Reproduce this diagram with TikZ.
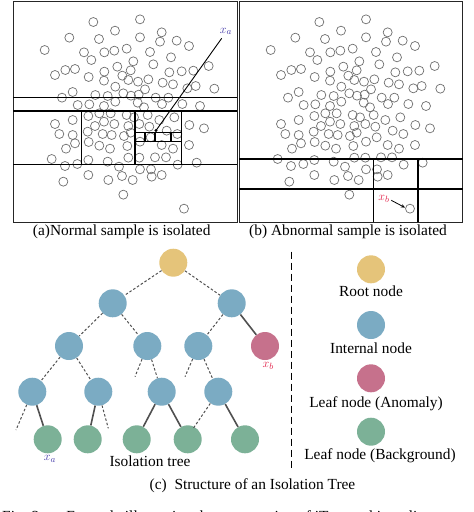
\documentclass[tikz,border=0pt]{standalone}
\usepackage{fontspec}
\setmainfont{Liberation Serif}
\usetikzlibrary{arrows.meta}
\definecolor{rootc}{RGB}{229,196,122}
\definecolor{intc}{RGB}{123,171,195}
\definecolor{anomc}{RGB}{198,113,140}
\definecolor{leafc}{RGB}{124,177,151}
\definecolor{ptgray}{RGB}{110,110,110}
\definecolor{edgegray}{RGB}{80,80,80}
\definecolor{xacol}{RGB}{70,60,170}
\definecolor{xbcol}{RGB}{225,30,70}
\newcommand{\ptcloud}{%
  \begin{scope}[shift={(10,0)},x=0.33333pt,y=-0.33333pt]
    \foreach \a/\b in {250/66, 390/58, 178/113, 315/92, 267/117, 390/112, 455/97, 450/125, 500/122, 537/138, 104/150, 222/157, 283/157, 313/152, 350/146, 420/156, 483/172, 244/180, 370/184, 430/193, 596/198, 135/225, 166/210, 195/207, 236/231, 283/215, 322/200, 362/211, 337/227, 355/240, 384/245, 415/238, 478/217, 515/214, 550/212, 282/242, 316/260, 458/248, 489/253, 532/265, 557/258, 613/266, 188/276, 156/293, 256/285, 293/288, 340/280, 363/287, 386/284, 405/268, 437/293, 475/293, 203/315, 238/313, 282/318, 316/305, 383/308, 402/322, 456/312, 517/312, 570/318}
      \draw[ptstyle] (\a,\b) circle[radius=4.5pt];
  \end{scope}
  \begin{scope}[shift={(10,110)},x=0.33333pt,y=-0.33333pt]
    \foreach \a/\b in {135/42, 188/30, 235/18, 268/10, 302/10, 350/15, 372/22, 413/15, 493/22, 148/72, 188/75, 233/65, 255/48, 282/35, 313/42, 355/48, 362/68, 388/42, 418/50, 448/30, 470/62, 502/72, 538/45, 582/55, 195/100, 168/116, 236/96, 268/107, 300/116, 278/72, 305/75, 352/108, 342/78, 390/95, 422/82, 455/105, 489/116, 537/105, 125/147, 165/168, 202/162, 235/150, 293/155, 327/170, 355/143, 388/143, 435/142, 468/142, 503/164, 560/158, 390/178, 423/178, 160/215, 235/195, 295/210, 336/198, 368/210, 425/200, 455/195, 340/254, 522/296}
      \draw[ptstyle] (\a,\b) circle[radius=4.5pt];
  \end{scope}}
\begin{document}
\begin{tikzpicture}[x=1pt,y=-1pt,
  ptstyle/.style={draw=ptgray,line width=0.7pt},
  part/.style={draw=black,line width=1.1pt},
  frame/.style={draw=black!85,line width=1pt},
  tnode/.style={circle,minimum size=28pt,inner sep=0pt,draw=none},
  edash/.style={draw=edgegray,line width=1pt,dash pattern=on 2.5pt off 2pt},
  esolid/.style={draw=edgegray,line width=1.6pt},
  txt/.style={font=\fontsize{15.4}{18}\selectfont,inner sep=0pt},
  mlab/.style={font=\fontsize{13}{15}\selectfont,inner sep=0pt}]
\useasboundingbox (0,0) rectangle (474,512);
\clip (0,0) rectangle (474,512);
% ---------- panel (a)
\ptcloud
\draw[frame] (13,1) rectangle (237,222);
\draw[part] (13,97.7) -- (237,97.7);
\draw[part] (13,111) -- (237,111);
\draw[part] (13,164.3) -- (237,164.3);
\draw[part] (81.7,111) -- (81.7,164.3);
\draw[part] (135,111) -- (135,164.3);
\draw[part] (181.7,111) -- (181.7,164.3);
\draw[part] (135,132.5) -- (181.7,132.5);
\draw[part] (135,141.7) -- (181.7,141.7);
\draw[part] (145,132.5) -- (145,141.7);
\draw[part] (155,132.5) -- (155,141.7);
\draw[part] (171,132.5) -- (171,141.7);
\coordinate (xa) at (156,130.5);
\coordinate (xaend) at (221.7,38.3);
\fill (xa) circle[radius=1.6pt];
\draw[line width=0.9pt] (xa) -- (xaend);
\node[mlab,text=xacol] (xalab) at (226,31.5) {$x_a$};
\node[txt] (capa) at (121.7,232) {(a)Normal sample is isolated};
% ---------- panel (b)
\begin{scope}[xshift=226pt]
\ptcloud
\end{scope}
\draw[frame] (239,1) rectangle (462.7,222);
\draw[part] (239,159) -- (462.7,159);
\draw[part] (239,189) -- (462.7,189);
\draw[part] (373.3,159) -- (373.3,222);
\draw[part] (418,159) -- (418,222);
\node[mlab,text=xbcol] (xblab) at (384,199.3) {$x_b$};
\coordinate (xbtip) at (405,207.6);
\draw[line width=0.8pt,-{Stealth[length=4pt,width=3.5pt]}] (xblab.east) ++(1.5,1) -- (xbtip);
\node[txt] (capb) at (348,232) {(b) Abnormal sample is isolated};
% ---------- tree
\node[tnode,fill=rootc] (r) at (173.3,262.7) {};
\node[tnode,fill=intc] (i1) at (112.7,303.3) {};
\node[tnode,fill=intc] (i2) at (231.7,303.3) {};
\node[tnode,fill=intc] (i3) at (69,346) {};
\node[tnode,fill=intc] (i4) at (147.3,346) {};
\node[tnode,fill=intc] (i5) at (198.3,346) {};
\node[tnode,fill=anomc] (an) at (265,346) {};
\node[tnode,fill=intc] (i6) at (32.3,391.7) {};
\node[tnode,fill=intc] (i7) at (98.3,391.7) {};
\node[tnode,fill=intc] (i8) at (161.7,391.7) {};
\node[tnode,fill=intc] (i9) at (218.3,391.7) {};
\node[tnode,fill=leafc] (l1) at (47.7,439.3) {};
\node[tnode,fill=leafc] (l2) at (87.7,439.3) {};
\node[tnode,fill=leafc] (l3) at (136.7,439.3) {};
\node[tnode,fill=leafc] (l4) at (187.7,439.3) {};
\node[tnode,fill=leafc] (l5) at (245,439.3) {};
\coordinate (s1) at (135,376.7);
\coordinate (s2) at (185,376.7);
\coordinate (s3) at (16,430);
\coordinate (s4) at (108.3,428.3);
\coordinate (s5) at (193.3,428.3);
\draw[edash] (r) -- (i1);
\draw[edash] (r) -- (i2);
\draw[edash] (i1) -- (i3);
\draw[edash] (i1) -- (i4);
\draw[edash] (i2) -- (i5);
\draw[esolid] (i2) -- (an);
\draw[edash] (i3) -- (i6);
\draw[edash] (i3) -- (i7);
\draw[edash] (i4) -- (s1);
\draw[edash] (i4) -- (i8);
\draw[edash] (i5) -- (s2);
\draw[edash] (i5) -- (i9);
\draw[edash] (i6) -- (s3);
\draw[esolid] (i6) -- (l1);
\draw[esolid] (i7) -- (l2);
\draw[edash] (i7) -- (s4);
\draw[esolid] (i8) -- (l3);
\draw[esolid] (i8) -- (l4);
\draw[edash] (i9) -- (s5);
\draw[esolid] (i9) -- (l5);
\node[mlab,text=xbcol] (anlab) at (268.3,366) {$x_b$};
\node[mlab,text=xacol] (l1lab) at (50,459.3) {$x_a$};
\node[txt] (treelab) at (150,461.7) {Isolation tree};
% ---------- separator
\coordinate (sepa) at (291.7,251.7);
\coordinate (sepb) at (291.7,470);
\draw[line width=1.3pt,dash pattern=on 7pt off 4pt] (sepa) -- (sepb);
% ---------- legend
\node[tnode,fill=rootc] (g1) at (371,269.3) {};
\node[txt] (g1l) at (371,291.7) {Root node};
\node[tnode,fill=intc] (g2) at (371,325) {};
\node[txt] (g2l) at (371,348.3) {Internal node};
\node[tnode,fill=anomc] (g3) at (371,378.3) {};
\node[txt] (g3l) at (376,403.3) {Leaf node (Anomaly)};
\node[tnode,fill=leafc] (g4) at (371,431.7) {};
\node[txt] (g4l) at (380,456) {Leaf node (Background)};
\node[txt] (capc) at (252.5,486) {(c)\ \ Structure of an Isolation Tree};
\node[txt,anchor=base west] (figcap) at (2,521) {Fig. 3.\quad\ \ Example illustrating the construction of iTree and its split process};
\end{tikzpicture}
\end{document}
